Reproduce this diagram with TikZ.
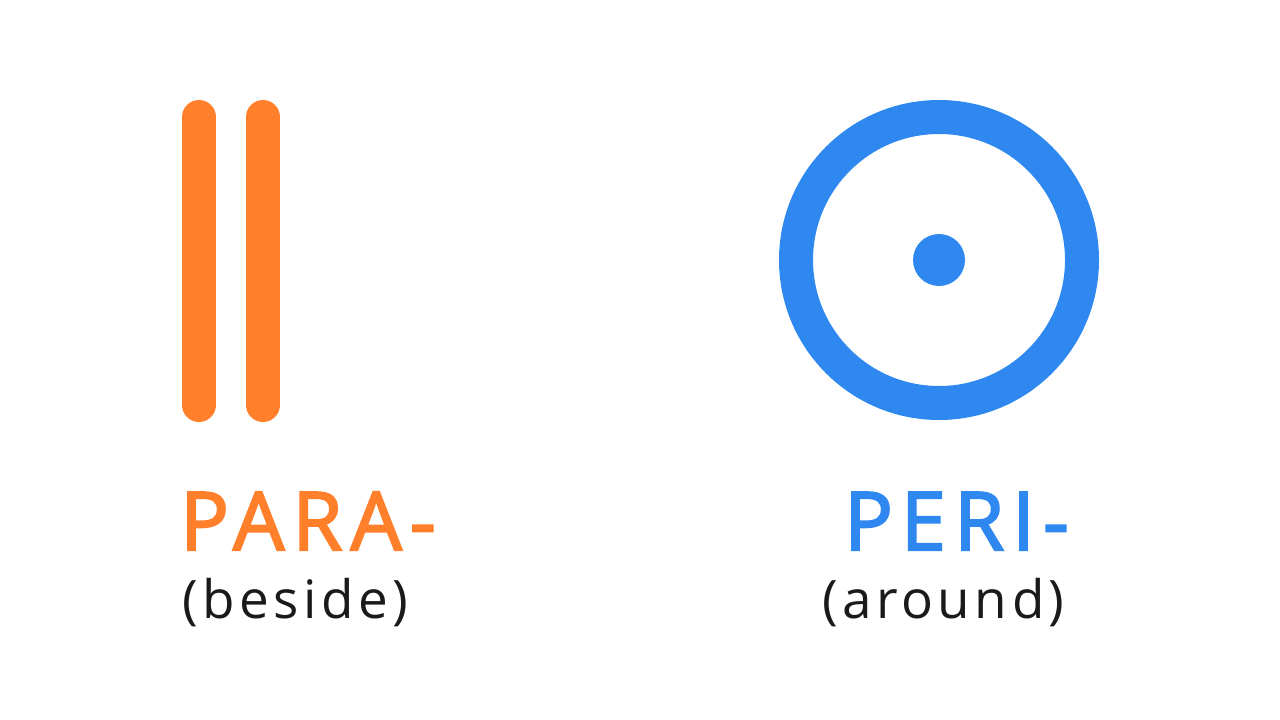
\documentclass[tikz,border=0pt]{standalone}
\usepackage{fontspec}
\setmainfont{Open Sans}
\newfontfamily\titlefont[LetterSpace=10,FakeBold=2.5]{Open Sans}
\newfontfamily\subfont[LetterSpace=8.5]{Open Sans}
\definecolor{paraorange}{HTML}{FF7F2A}
\definecolor{periblue}{HTML}{2F88F0}
\definecolor{textdark}{HTML}{1A1A1A}
\begin{document}
\begin{tikzpicture}[x=1pt,y=-1pt,
  bar/.style={draw=paraorange,line width=34pt,line cap=round},
  ring/.style={draw=periblue,line width=34pt},
  dot/.style={fill=periblue,circle,inner sep=0pt,minimum size=52pt},
  title/.style={inner sep=0pt,font=\titlefont\fontsize{81}{81}\selectfont},
  sub/.style={inner sep=0pt,text=textdark,font=\subfont\fontsize{53}{53}\selectfont}]
\useasboundingbox[fill=white] (0,0) rectangle (1280,720);
\coordinate (b1t) at (199,117);
\coordinate (b1b) at (199,405);
\coordinate (b2t) at (263,117);
\coordinate (b2b) at (263,405);
\draw[bar] (b1t) -- (b1b);
\draw[bar] (b2t) -- (b2b);
\coordinate (c) at (939,260);
\draw[ring] (c) circle[radius=143];
\node[dot] (d) at (c) {};
\node[title,text=paraorange,anchor=base west] (para) at (180,550) {PARA-};
\node[sub,anchor=base west] (beside) at (182,618) {(beside)};
\node[title,text=periblue,anchor=base west] (peri) at (844,550) {PERI-};
\node[sub,anchor=base west] (around) at (822,618) {(around)};
\end{tikzpicture}
\end{document}
